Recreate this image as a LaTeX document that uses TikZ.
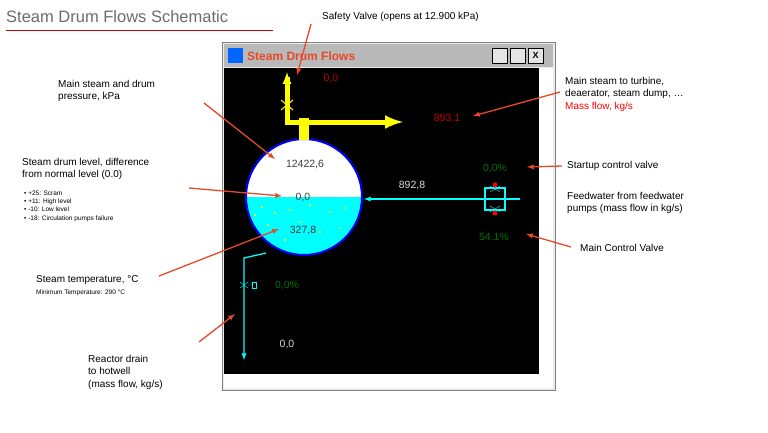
\documentclass[tikz,border=0pt]{standalone}
\usepackage{fontspec}
\setmainfont{Liberation Sans}
\definecolor{cy}{RGB}{0,255,255}
\definecolor{yl}{RGB}{255,255,0}
\definecolor{ar}{RGB}{232,72,40}
\begin{document}
\begin{tikzpicture}[x=1pt,y=-1pt,
  call/.style={draw=ar,line width=1.3pt,-latex},
  lbl/.style={font=\fontsize{10}{12.5}\selectfont,align=left,anchor=west,inner sep=0},
  val/.style={font=\fontsize{10.5}{12}\selectfont,inner sep=0}]
\useasboundingbox (0,0) rectangle (768,432);
% title
\node[lbl,font=\fontsize{16.5}{18}\selectfont,text=gray!85!black] (title) at (6,17) {Steam Drum Flows Schematic};
\draw[red!80!black] (6,30) -- (273,30);
% window
\draw[gray,fill=gray!15,line width=1pt] (222,42) rectangle (555,390);
\fill[gray!55] (224,44) rectangle (553,67);
\node[anchor=west,inner sep=0,text=ar,font=\bfseries\fontsize{12}{14}\selectfont] (wt) at (247,56) {Steam Drum Flows};
\fill[blue!60!cyan] (228,48) rectangle (243,63);
\foreach \x in {492,510,528}{\draw[fill=gray!20] (\x,48) rectangle ++(15,15);}
\node[font=\bfseries\fontsize{9}{9}\selectfont,inner sep=0] (xb) at (535.5,55.5) {X};
\fill[white] (224,68) rectangle (553,388);
\fill[black] (224,68) rectangle (539,374);
% drum
\coordinate (dc) at (304,197);
\begin{scope}
\clip (dc) circle (58);
\fill[white] (246,139) rectangle (362,197);
\fill[cy] (246,197) rectangle (362,256);
\foreach \p in {(262,207),(275,213),(290,210),(310,205),(330,212),(345,208),(268,225),(300,222),(320,232),(285,240),(340,228),(255,215)}
 \fill[yl] \p circle (1.2);
\end{scope}
\draw[blue,line width=2pt] (dc) circle (58);
% yellow steam lines
\fill[yl] (299,118) rectangle (309,140);
\draw[yl,line width=5pt] (287,77) -- (287,122) -- (300,122);
\draw[yl,line width=5pt,-latex] (300,122) -- (403,122);
\draw[yl,line width=3pt,-latex] (287,100) -- (287,72);
\draw[yl,line width=1pt] (281,100) -- (293,110) (281,110) -- (293,100);
% feedwater
\coordinate (fwin) at (364,199);
\draw[cy,line width=1.3pt,-latex] (520,199) -- (fwin);
\draw[cy,line width=1.3pt] (485,188) rectangle (505,210);
\draw[cy] (490,186)--(500,192) (490,192)--(500,186) (490,206)--(500,212) (490,212)--(500,206);
\fill[red] (495,185) circle (2.5) (495,213) circle (2.5);
% drain
\draw[cy,line width=1.3pt,-latex] (266,253) -- (244,258) -- (244,360);
\draw[cy] (240,282)--(248,288) (240,288)--(248,282) (248,285)--(252,285);
\draw[cy] (252,282) rectangle (256,288);
% values
\node[val,text=red!75!black] (v1) at (331,79) {0,0};
\node[val,text=red!75!black] (v2) at (447,118) {893,1};
\node[val,text=black!75] (v3) at (305,164) {12422,6};
\node[val,text=black!75] (v4) at (303,197) {0,0};
\node[val,text=black!80] (v5) at (303,230) {327,8};
\node[val,text=gray!30] (v6) at (412,185) {892,8};
\node[val,text=green!45!black] (v7) at (495,168) {0,0\%};
\node[val,text=green!45!black] (v8) at (494,237) {54.1\%};
\node[val,text=green!45!black] (v9) at (287,285) {0,0\%};
\node[val,text=gray!30] (v10) at (287,344) {0,0};
% labels
\node[lbl] (l1) at (322,17) {Safety Valve (opens at 12.900 kPa)};
\node[lbl] (l2) at (58,91) {Main steam and drum\\pressure, kPa};
\node[lbl] (l3) at (22,169) {Steam drum level, difference\\from normal level (0.0)};
\node[lbl,font=\fontsize{6.5}{8.3}\selectfont] (l3b) at (24,206) {\textbullet\ +25: Scram\\\textbullet\ +11: High level\\\textbullet\ -10: Low level\\\textbullet\ -18: Circulation pumps failure};
\node[lbl] (l4) at (36,280) {Steam temperature, \textdegree C};
\node[lbl,font=\fontsize{6.5}{8}\selectfont] (l4b) at (36,293) {Minimum Temperature: 290 \textdegree C};
\node[lbl] (l5) at (88,372) {Reactor drain\\to hotwell\\(mass flow, kg/s)};
\node[lbl] (l6) at (565,94) {Main steam to turbine,\\deaerator, steam dump, \dots\\\textcolor{red}{Mass flow, kg/s}};
\node[lbl] (l7) at (567,166) {Startup control valve};
\node[lbl] (l8) at (567,203) {Feedwater from feedwater\\pumps\ (mass flow in kg/s)};
\node[lbl] (l9) at (580,248) {Main Control Valve};
% callouts
\draw[call] (311,24) -- (297,75);
\draw[call] (204,103) -- (275,159);
\draw[call] (189,188) -- (282,196);
\draw[call] (159,276) -- (279,229);
\draw[call] (199,342) -- (235,314);
\draw[call] (560,92) -- (473,116);
\draw[call] (562,166) -- (527,167);
\draw[call] (571,247) -- (526,234);
\end{tikzpicture}
\end{document}
